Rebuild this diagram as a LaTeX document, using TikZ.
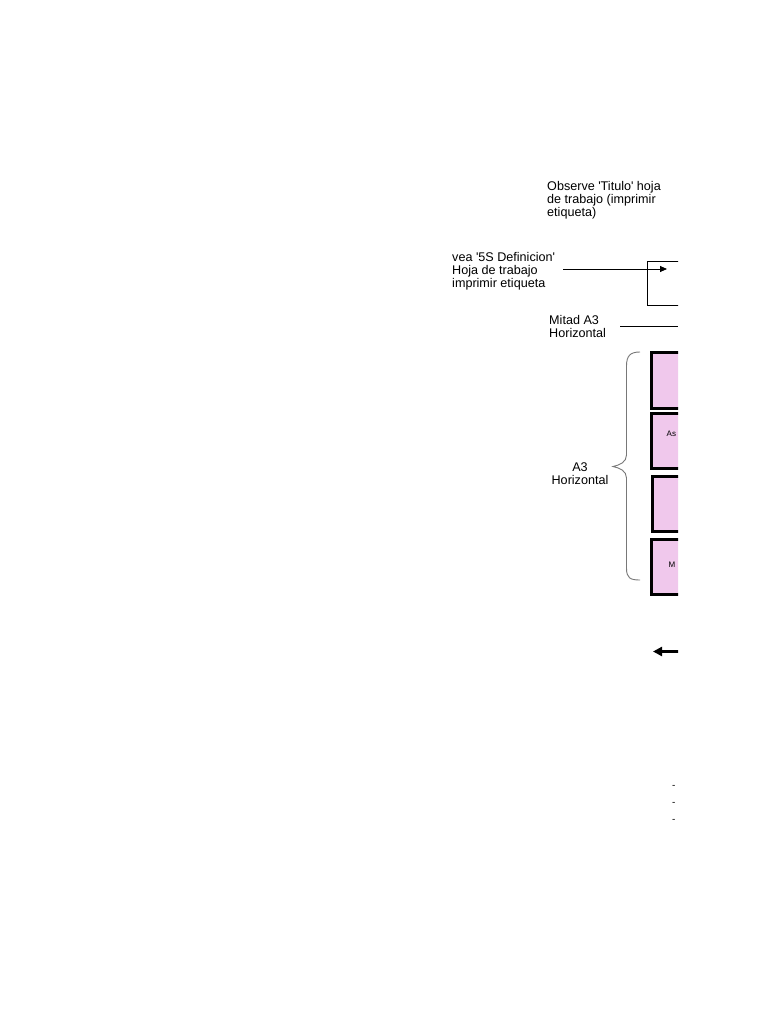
\documentclass[tikz,border=0pt]{standalone}
\usepackage{fontspec}
\setmainfont{Liberation Sans}
\usetikzlibrary{arrows.meta}
\definecolor{pinkfill}{RGB}{240,200,236}
\definecolor{bracegray}{RGB}{120,120,120}
\newcommand{\sq}{\textquotesingle}
\tikzset{
  lbl/.style={inner sep=0pt, anchor=base west, align=left, font=\fontsize{12.6}{13}\selectfont},
  pinkbox/.style={draw=black, line width=3pt, fill=pinkfill},
  whitebox/.style={draw=black, line width=1.4pt, fill=white},
  small/.style={inner sep=0pt, anchor=base west, font=\fontsize{8}{9}\selectfont},
}
\begin{document}
\begin{tikzpicture}[x=1pt,y=-1pt]
\useasboundingbox[fill=white] (0,0) rectangle (768,1024);
% texts (anchored at the baseline of the last line)
\node[lbl] (obs) at (547,216.7) {Observe \sq Titulo\sq{} hoja\\de trabajo (imprimir\\etiqueta)};
\node[lbl] (vea) at (452,287) {vea \sq 5S Definicion\sq\\Hoja de trabajo\\imprimir etiqueta};
\node[lbl] (mitad) at (549,337) {Mitad A3\\Horizontal};
\node[inner sep=0pt, anchor=base, align=center, font=\fontsize{12.6}{13}\selectfont] (a3) at (580,484.5) {A3\\Horizontal};
\begin{scope}
\clip (0,0) rectangle (678,1024);
% white box
\node[whitebox, minimum width=60pt, minimum height=44pt, anchor=north west, inner sep=0pt] (wbox) at (647,261) {};
\coordinate (wtip) at (667,269);
% pink boxes
\node[pinkbox, minimum width=60pt, minimum height=56pt, anchor=north west, inner sep=0pt] (p1) at (650,351) {};
\node[pinkbox, minimum width=60pt, minimum height=55pt, anchor=north west, inner sep=0pt] (p2) at (650,411.5) {};
\node[pinkbox, minimum width=60pt, minimum height=55pt, anchor=north west, inner sep=0pt] (p3) at (651,475) {};
\node[pinkbox, minimum width=60pt, minimum height=55pt, anchor=north west, inner sep=0pt] (p4) at (650,538) {};
\node[small] (t2) at (666.5,436.7) {As};
\node[small] (t4) at (668.5,567.7) {M};
% thick arrow
\coordinate (atail) at (690,651.5);
\coordinate (ahead) at (653,651.5);
\draw[line width=3pt, -{Triangle[length=9pt,width=9pt]}] (atail) -- (ahead);
% dashes
\node[small, font=\fontsize{10}{11}\selectfont] (d1) at (672,788.5) {-};
\node[small, font=\fontsize{10}{11}\selectfont] (d2) at (672,805.5) {-};
\node[small, font=\fontsize{10}{11}\selectfont] (d3) at (672,822.5) {-};
\end{scope}
% connectors
\coordinate (vstart) at (563,269);
\draw[line width=0.8pt, -{Triangle[length=7pt,width=6pt]}] (vstart) -- (wtip);
\coordinate (mstart) at (620,326.7);
\coordinate (mend) at (678,326.7);
\draw[line width=0.8pt] (mstart) -- (mend);
% brace
\draw[bracegray, line width=0.9pt]
  (640,352) .. controls (630,352) and (626.5,356) .. (626.5,366)
  -- (626.5,455) .. controls (626.5,462) and (620,465) .. (613,466.5)
  .. controls (620,468) and (626.5,471) .. (626.5,478)
  -- (626.5,568) .. controls (626.5,578) and (630,580) .. (640,580);
\end{tikzpicture}
\end{document}
